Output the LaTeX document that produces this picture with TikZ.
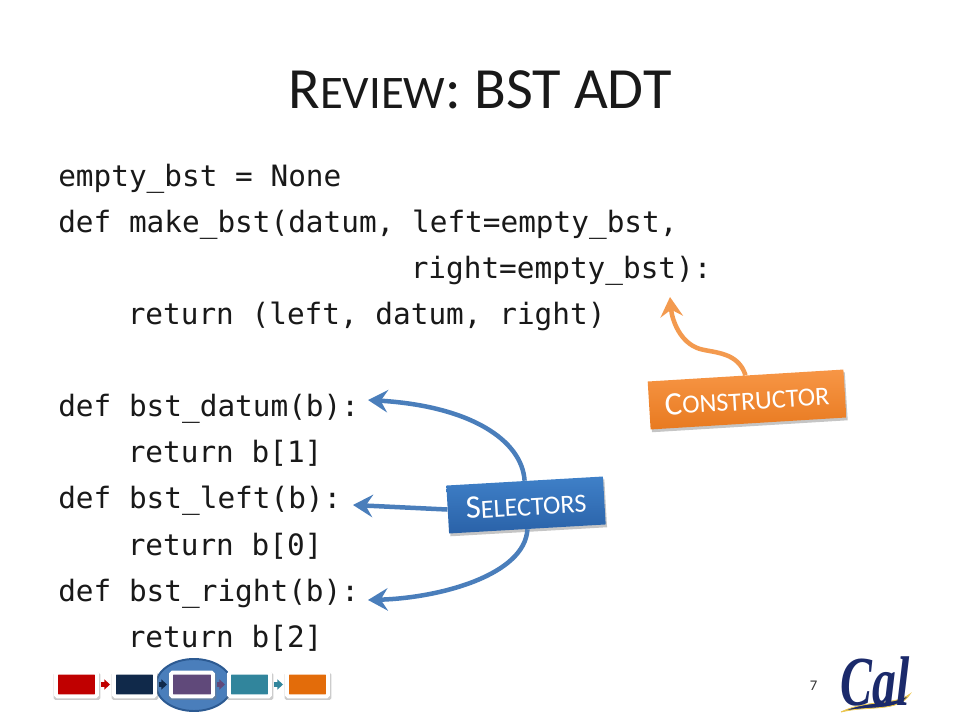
\documentclass[tikz,border=0pt]{standalone}
\usepackage{fontspec}
\usepackage{tikz}
\usetikzlibrary{arrows.meta, shadows, shapes.geometric}
\setmainfont{Carlito}
\setmonofont{DejaVu Sans Mono}
\newfontfamily\calfont{Liberation Serif}
\newcommand{\sccaps}[3]{#2{\fontsize{#1}{10pt}\selectfont #3}}
\definecolor{navred}{HTML}{C00000}
\definecolor{navdark}{HTML}{10294A}
\definecolor{navpurple}{HTML}{60497A}
\definecolor{navteal}{HTML}{31859C}
\definecolor{navorange}{HTML}{E36C0A}
\definecolor{calblue}{HTML}{1B2A6B}
\definecolor{calgold}{HTML}{EFC94C}
\definecolor{selectortop}{HTML}{3F80C8}
\definecolor{selectorbot}{HTML}{2A62A8}
\definecolor{selectorline}{HTML}{4A7EBB}
\definecolor{selectordark}{HTML}{2C5A92}
\definecolor{constructortop}{HTML}{F79646}
\definecolor{constructorbot}{HTML}{E87A20}
\definecolor{constructorline}{HTML}{F39A4F}
\tikzset{
	codeline/.style={anchor=base west, inner sep=0pt, text=black!90,
		font=\ttfamily\fontsize{20.9pt}{24pt}\selectfont},
	navbox/.style={draw=white, line width=2.8pt, rounded corners=1pt, minimum width=1.025cm,
		minimum height=0.59cm, inner sep=0pt, drop shadow={shadow scale=1.14, shadow xshift=0.3pt, shadow yshift=-1.2pt, opacity=0.4}},
	navlink/.style={line width=3.2pt, shorten <=0.05cm, shorten >=0.05cm,
		-{Triangle[length=4pt, width=7pt]}},
	tagbox/.style={inner sep=0pt, minimum height=1.2cm, text=white,
		font=\fontsize{23.3pt}{26pt}\selectfont,
		drop shadow={shadow xshift=1pt, shadow yshift=-2pt, opacity=0.45}},
	tagarrow/.style={line width=3.2pt, -{Stealth[length=14pt, width=16pt, inset=5pt]}},
}
\begin{document}
\begin{tikzpicture}[x=0.025cm, y=-0.025cm]
  \useasboundingbox (0, 0) rectangle (960, 720);
  \fill[white] (0, 0) rectangle (960, 720);

  \node (title) [anchor=base, inner sep=0pt, text=black!90, font=\fontsize{41.5pt}{48pt}\selectfont] at (480, 109) {\sccaps{33.2pt}{R}{EVIEW}: BST ADT};

  \node (empty_bst) [codeline] at (58, 187) {empty\_bst = None};
  \node (make_bst) [codeline] at (58, 233) {def make\_bst(datum, left=empty\_bst,};
  \node (make_bst_right) [codeline] at (410.5, 279) {right=empty\_bst):};
  \node (make_bst_return) [codeline] at (127.5, 325) {return (left, datum, right)};
  \node (bst_datum) [codeline] at (58, 417) {def bst\_datum(b):};
  \node (bst_datum_return) [codeline] at (127.5, 463) {return b[1]};
  \node (bst_left) [codeline] at (58, 509) {def bst\_left(b):};
  \node (bst_left_return) [codeline] at (127.5, 555) {return b[0]};
  \node (bst_right) [codeline] at (58, 601) {def bst\_right(b):};
  \node (bst_right_return) [codeline] at (127.5, 647) {return b[2]};

  \node (selectors) [tagbox, rotate=3.3, minimum width=3.92cm, top color=selectortop, bottom color=selectorbot] at (526, 505) {\sccaps{18.6pt}{S}{ELECTORS}};
  \node (constructor) [tagbox, rotate=3.5, minimum width=4.9cm, top color=constructortop, bottom color=constructorbot] at (747, 399.5) {\sccaps{18.6pt}{C}{ONSTRUCTOR}};

  \coordinate (datum_tip) at (368, 400);
  \coordinate (left_tip) at (353, 505);
  \coordinate (right_tip) at (368, 600);
  \coordinate (constructor_tip) at (670, 297);
  \draw[tagarrow, color=selectorline] (selectors.north) .. controls (522, 440) and (470, 406) .. (datum_tip);
  \draw[tagarrow, color=selectorline] (selectors.west) -- (left_tip);
  \draw[tagarrow, color=selectorline] (selectors.south) .. controls (525, 575) and (440, 598) .. (right_tip);
  \draw[tagarrow, color=constructorline] (constructor.north) .. controls (738, 352) and (715, 353) .. (700, 349) .. controls (680, 343) and (672, 320) .. (constructor_tip);

  \node (nav_ring) [ellipse, draw=selectordark, line width=1.4pt, fill=selectorline, minimum width=1.9cm, minimum height=1.3cm, inner sep=0pt] at (194, 685) {};
  \node (nav_1) [navbox, fill=navred] at (76.5, 684.5) {};
  \node (nav_2) [navbox, fill=navdark] at (134.5, 684.5) {};
  \node (nav_3) [navbox, fill=navpurple, minimum width=1.05cm] at (192, 684.5) {};
  \node (nav_4) [navbox, fill=navteal] at (249.5, 684.5) {};
  \node (nav_5) [navbox, fill=navorange] at (307.5, 684.5) {};
  \draw[navlink, color=navred] (nav_1) -- (nav_2);
  \draw[navlink, color=navdark] (nav_2) -- (nav_3);
  \draw[navlink, color=navpurple] (nav_3) -- (nav_4);
  \draw[navlink, color=navteal] (nav_4) -- (nav_5);

  \node (page_number) [inner sep=0pt, text=black!80, font=\fontsize{10.5pt}{12pt}\selectfont] at (813.5, 686) {7};

  \fill[calblue, draw=calgold, line width=0.6pt] (841, 712) .. controls (868, 699) and (895, 706) .. (910, 694) .. controls (898, 713) and (868, 705) .. (841, 712);
  \node (cal_logo) [inner sep=0pt, text=calblue, xscale=0.68, font=\calfont\bfseries\itshape\fontsize{50pt}{56pt}\selectfont] at (875, 681) {Cal};
\end{tikzpicture}
\end{document}
